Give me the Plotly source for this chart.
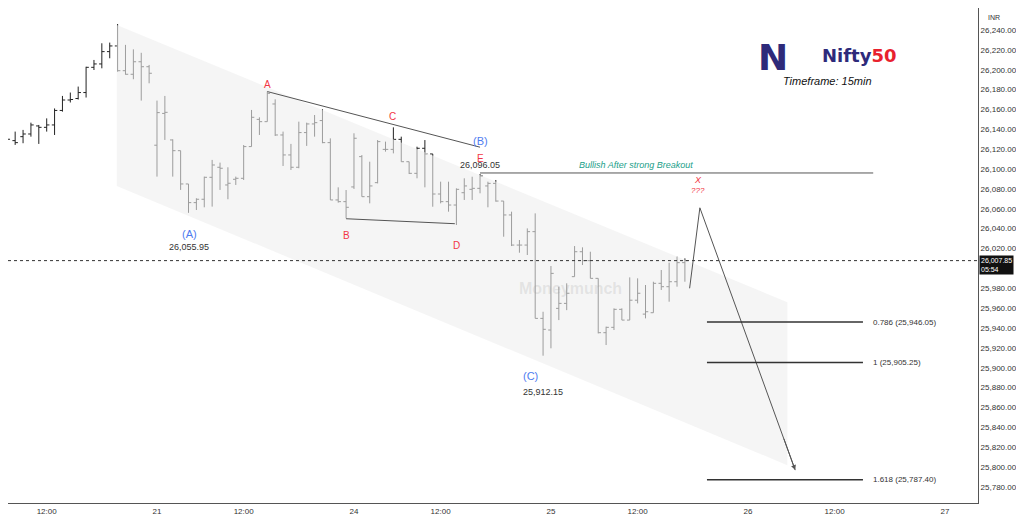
import plotly.graph_objects as go

# bar index (15-min bars; day 20 starts at 0, day 21 at 25, 24 at 50, 25 at 75)
idx = list(range(5, 93))
opens = [26127.6,26129.3,26128.6,26132.6,26135.3,26143.4,26142,26144.4,26159,26169.5,26171,26177,26202.4,26205.8,26218.2,26223.9,26199,26195.4,26208,26203,
 26124,26156,26129.3,26118.5,26085,26066.2,26069.6,26091.7,26101.8,26084,26089.7,26090.7,26122.6,26150,26147.7,26165.5,26134.3,26114.2,26101.8,26136.7,26145.4,26148.8,26126.6,26068.9,26067.2,
 26082,26112.5,26072.2,26086.3,26119.8,26119.8,26129.9,26107.4,26095.7,26120.9,26115.2,26074.9,26067.2,26063.8,26076.2,26079.6,26080.6,26083,
 26085.6,26067.8,26053.8,26023.5,26023.5,26037,25949.7,25938,25959.8,25964.8,25991.7,26016.8,26007.8,25990,25935.3,25940.7,25958.8,25948,25968,25954,25955.4,25985,25981.6,25986.6,26005.8]
highs = [26128.6,26143.4,26137.7,26139.4,26146.7,26144.4,26151,26161,26173.6,26177,26183,26203,26209.8,26226.6,26227.3,26246,26225,26220.5,26217,26204.8,
 26168.9,26173.6,26129.9,26118.5,26085,26070.6,26092.4,26109.2,26106.5,26101.8,26092.4,26124.2,26159.5,26152.1,26178,26170.2,26137.7,26125.3,26147.7,26146.7,26154.4,26160.2,26130.9,26081.6,26078.9,
 26136,26114.1,26107.4,26129.2,26127.6,26142,26132.6,26107.4,26122.5,26129.2,26115.2,26087.3,26087.3,26080.6,26090.7,26092.3,26095,26087.3,
 26089,26067.8,26057.1,26028.6,26040.3,26055.4,25956.4,26002.4,25981.6,25985,26022.5,26021.2,26016.8,25990,25941.4,25959.8,25959.8,25991,25990,25983.3,25986.6,25998.4,26005.8,26011.8,26010.1]
lows = [26123,26122.6,26124.3,26126,26132.6,26125.3,26137.7,26134.3,26157.8,26167,26170,26172,26199.7,26201.4,26211.5,26198,26195,26190.4,26168.9,26186.3,
 26092.4,26129.3,26092.4,26079,26055.95,26058.8,26061.5,26062.2,26079,26069.6,26084,26089,26122.6,26134.3,26147.7,26133.3,26103.1,26099.1,26100.8,26123.3,26132.6,26126,26068.9,26066.2,26050.4,
 26080,26072.2,26065.5,26085.6,26117.5,26115.8,26107.4,26095,26090.7,26081.6,26062.1,26065.5,26057.1,26043.7,26068.9,26068.9,26075.6,26061.5,
 26067.2,26031.9,26022.5,26015.8,26013.5,25949.7,25912.15,25919.6,25948,25958,25991.7,26003.4,25990,25934.6,25922.9,25938,25948,25948,25964.8,25949.7,25955.4,25978.3,25966.5,25981.6,25986.6]
closes = [26126.6,26130,26126.6,26135.3,26144.4,26142,26144.4,26159,26169.5,26170,26177,26202.4,26205.8,26218.2,26223.9,26199,26195.4,26208,26203,26196.4,
 26156.8,26157.1,26118.5,26085,26066.2,26069.6,26091.7,26104.1,26100.8,26085.7,26090.7,26122.6,26152.1,26147.7,26176.2,26134.3,26114.2,26101.8,26136.7,26145.4,26146.7,26126.6,26068.9,26067.2,26061.5,
 26131,26072.2,26083,26127.6,26119.8,26129.9,26107.4,26095.7,26120.9,26115.2,26074.9,26067.2,26063.8,26079.6,26083,26080.6,26093,26085.6,
 26067.8,26053.8,26023.5,26023.5,26037,25949.7,25938.7,25995,25964.8,25975,26016.8,26007.8,25990,25935.3,25940.7,25958.8,25948,25968,25975,25956.4,25985,25981.6,25986.6,26005.8,26007.85]

y_ticks = [v for v in range(25780, 26241, 20) if v != 26000]
x_tick_pos = [11, 25, 36, 50, 61, 75, 86, 100, 111, 125]
x_tick_text = ["12:00", "21", "12:00", "24", "12:00", "25", "12:00", "26", "12:00", "27"]
last_price = 26007.85
fib_levels = [0.786, 1, 1.618]
fib_prices = [25946.05, 25905.25, 25787.40]

fig = go.Figure()
# channel
fig.add_trace(go.Scatter(x=[19.9, 105, 105, 19.9, 19.9], y=[26245, 25966, 25802, 26083, 26245],
                         fill="toself", fillcolor="rgba(238,238,238,0.6)", line=dict(width=0),
                         mode="lines", hoverinfo="skip", showlegend=False))
fig.add_annotation(x=77.5, y=25980, text="<b>Moneymunch</b>", showarrow=False,
                   font=dict(size=16, color="rgba(150,150,150,0.2)"))
fig.add_trace(go.Ohlc(x=idx, open=opens, high=highs, low=lows, close=closes, tickwidth=0.35,
                      increasing=dict(line=dict(color="#222", width=1)),
                      decreasing=dict(line=dict(color="#222", width=1)), showlegend=False))
line_c = "#555"
fig.add_trace(go.Scatter(x=[39, 66], y=[26178, 26122], mode="lines", line=dict(color=line_c, width=1), showlegend=False))
fig.add_trace(go.Scatter(x=[49, 62.8], y=[26050, 26045], mode="lines", line=dict(color=line_c, width=1), showlegend=False))
fig.add_trace(go.Scatter(x=[66, 115.9], y=[26096.05, 26096.05], mode="lines", line=dict(color=line_c, width=1), showlegend=False))
fig.add_trace(go.Scatter(x=[92.6, 93.9, 106], y=[25980, 26061, 25797], mode="lines", line=dict(color="#555", width=1), showlegend=False))
fig.add_annotation(x=106, y=25797, ax=104.5, ay=25830, xref="x", yref="y", axref="x", ayref="y",
                   showarrow=True, arrowhead=2, arrowsize=1, arrowwidth=1, arrowcolor="#555", text="")
for lv, pr in zip(fib_levels, fib_prices):
    fig.add_trace(go.Scatter(x=[94.8, 114.6], y=[pr, pr], mode="lines", line=dict(color="#333", width=1.5), showlegend=False))
    fig.add_annotation(x=115.6, y=pr, text=f"{lv:g} ({pr:,.2f})", showarrow=False, xanchor="left",
                       font=dict(size=8, color="#333"))
fig.add_hline(y=last_price, line=dict(color="#333", width=1, dash="dot"))

def lab(x, y, t, c, s=10, it=False):
    fig.add_annotation(x=x, y=y, text=(f"<i>{t}</i>" if it else t), showarrow=False, font=dict(size=s, color=c))

red = "#f23645"
lab(39, 26185, "A", red); lab(49, 26033, "B", red); lab(54.9, 26153, "C", red)
lab(63, 26023, "D", red); lab(66, 26111, "E", red)
lab(29.1, 26035, "(A)", "#4f7cf0", 11); lab(29.1, 26022, "26,055.95", "#333", 9)
lab(66, 26128, "(B)", "#4f7cf0", 11); lab(66, 26104, "26,096.05", "#333", 9)
lab(72.4, 25892, "(C)", "#4f7cf0", 11); lab(74, 25876, "25,912.15", "#333", 9)
lab(93.6, 26089, "X", red, 9, True); lab(93.6, 26078, "???", red, 8, True)
lab(85.8, 26104, "Bullish After strong Breakout", "#22a08a", 9, True)

# logo
fig.add_annotation(xref="paper", yref="paper", x=(790-8)/970, y=1-(27)/495, text="<b>N</b>", showarrow=False,
                   font=dict(size=36, color="#2e2a7a", family="DejaVu Sans"))
fig.add_annotation(xref="paper", yref="paper", x=(820-8)/970, y=1-(35)/495, xanchor="left",
                   text="<b><span style='color:#2e2a7a'>Nifty</span><span style='color:#e8212e'>50</span></b>",
                   showarrow=False, font=dict(size=18, family="DejaVu Sans"))
fig.add_annotation(xref="paper", yref="paper", x=(781-8)/970, y=1-(65)/495, xanchor="left",
                   text="<i>Timeframe: 15min</i>", showarrow=False, font=dict(size=11, color="#111"))
# price tag
fig.add_annotation(xref="paper", yref="y", x=1.0, y=last_price, xanchor="left", yanchor="top",
                   text="26,007.85<br>05:54", align="left", showarrow=False, bgcolor="#111",
                   font=dict(size=7, color="white"), borderpad=1, xshift=1, yshift=6)
fig.add_annotation(xref="paper", yref="paper", x=1.0, y=1-4/495, xanchor="left", xshift=8, text="INR",
                   showarrow=False, font=dict(size=7, color="#333"))

fig.update_layout(width=1016, height=513, margin=dict(l=0, r=46, t=0, b=18),
                  plot_bgcolor="white", paper_bgcolor="white",
                  font=dict(family="Liberation Sans, Arial", size=8, color="#333"))
fig.update_xaxes(range=[6.09, 129.2], tickvals=x_tick_pos, ticktext=x_tick_text, showgrid=False,
                 rangeslider=dict(visible=False), showline=True, linecolor="#555", mirror=True,
                 zeroline=False, ticks="", tickfont=dict(size=8))
fig.update_yaxes(range=[25763.9, 26262.1], side="right", tickvals=y_ticks,
                 ticktext=[f"{v:,.2f}" for v in y_ticks], showgrid=False, showline=True, linecolor="#555",
                 mirror=True, zeroline=False, ticks="", tickfont=dict(size=8))
fig.write_html("out.html")
